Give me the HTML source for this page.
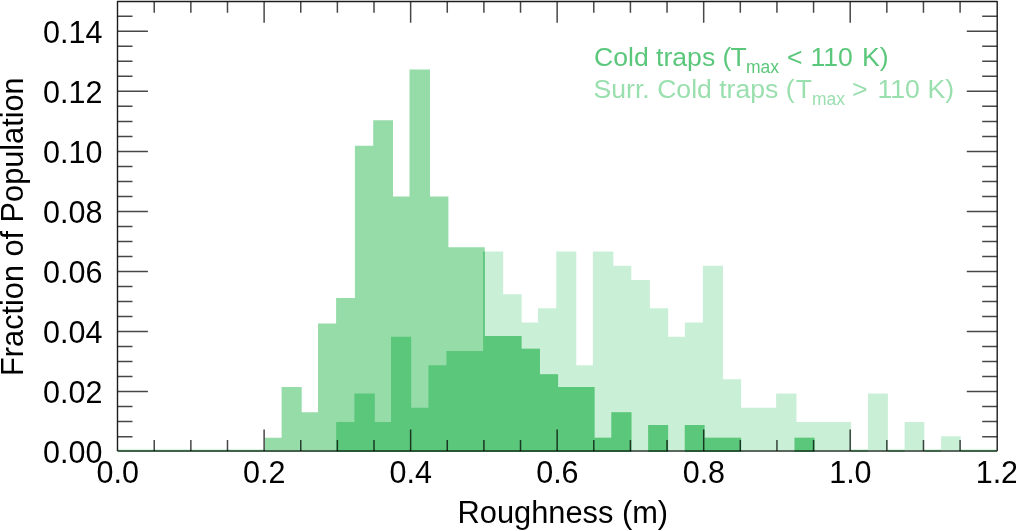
<!DOCTYPE html>
<html><head><meta charset="utf-8"><title>Roughness histogram</title>
<style>
html,body{margin:0;padding:0;background:#fff;}
body{width:1016px;height:531px;overflow:hidden;}
svg{display:block;}
.t{font-family:"Liberation Sans",Arial,sans-serif;font-size:30.5px;fill:#000;}
.lg{font-family:"Liberation Sans",Arial,sans-serif;font-size:26.6px;}
.sb{font-size:17.5px;}
</style></head><body>
<svg width="1016" height="531" viewBox="0 0 1016 531">
<rect width="1016" height="531" fill="#fff"/>
<line x1="117.5" y1="449.4" x2="997.2" y2="449.4" stroke="#d8f4e1" stroke-width="1"/>
<line x1="117.5" y1="451.0" x2="997.2" y2="451.0" stroke="#95dca9" stroke-width="2"/>
<path d="M336.20 452.00V421.95H354.40V452.00ZM354.40 452.00V393.55H374.80V452.00ZM374.80 452.00V421.95H391.00V452.00ZM391.00 452.00V336.75H411.20V452.00ZM411.20 452.00V407.75H428.40V452.00ZM428.40 452.00V365.15H446.40V452.00ZM446.40 452.00V350.95H483.10V452.00ZM483.10 452.00V251.55H503.20V452.00ZM503.20 452.00V294.15H521.60V452.00ZM521.60 452.00V322.55H538.00V452.00ZM538.00 452.00V308.35H556.30V452.00ZM556.30 452.00V251.55H576.30V452.00ZM576.30 452.00V365.15H592.90V452.00ZM592.90 452.00V251.55H613.30V452.00ZM613.30 452.00V265.75H631.30V452.00ZM631.30 452.00V279.95H649.90V452.00ZM649.90 452.00V308.35H668.20V452.00ZM668.20 452.00V336.75H684.90V452.00ZM684.90 452.00V322.55H702.90V452.00ZM702.90 452.00V265.75H723.00V452.00ZM723.00 452.00V379.35H741.10V452.00ZM741.10 452.00V407.75H776.10V452.00ZM776.10 452.00V393.55H796.50V452.00ZM796.50 452.00V421.95H851.10V452.00ZM868.00 452.00V393.55H887.90V452.00ZM904.60 452.00V421.95H924.30V452.00ZM941.10 452.00V436.15H960.70V452.00Z" fill="#caefd7"/>
<path d="M264.80 452.00V437.66H281.60V452.00ZM281.60 452.00V386.89H301.70V452.00ZM301.70 452.00V412.27H318.00V452.00ZM318.00 452.00V323.42H336.10V452.00ZM336.10 452.00V298.03H354.90V452.00ZM354.90 452.00V145.72H373.20V452.00ZM373.20 452.00V120.33H393.00V452.00ZM393.00 452.00V196.49H409.50V452.00ZM409.50 452.00V69.56H430.00V452.00ZM430.00 452.00V196.49H448.40V452.00ZM448.40 452.00V247.26H484.80V452.00ZM484.80 452.00V336.11H521.50V452.00ZM521.50 452.00V348.81H539.90V452.00ZM539.90 452.00V374.19H558.10V452.00ZM558.10 452.00V386.89H594.50V452.00ZM594.50 452.00V437.66H611.40V452.00ZM611.40 452.00V412.27H631.40V452.00ZM648.20 452.00V424.96H668.10V452.00ZM684.80 452.00V424.96H704.50V452.00ZM704.50 452.00V437.66H741.10V452.00ZM794.60 452.00V437.66H814.50V452.00Z" fill="#95dca9"/>
<path d="M336.20 452.00V421.95H354.40V452.00ZM354.40 452.00V393.55H354.90V452.00ZM354.90 452.00V393.55H373.20V452.00ZM373.20 452.00V393.55H374.80V452.00ZM374.80 452.00V421.95H391.00V452.00ZM391.00 452.00V336.75H393.00V452.00ZM393.00 452.00V336.75H409.50V452.00ZM409.50 452.00V336.75H411.20V452.00ZM411.20 452.00V407.75H428.40V452.00ZM428.40 452.00V365.15H430.00V452.00ZM430.00 452.00V365.15H446.40V452.00ZM446.40 452.00V350.95H448.40V452.00ZM448.40 452.00V350.95H483.10V452.00ZM483.10 452.00V251.55H484.80V452.00ZM484.80 452.00V336.11H503.20V452.00ZM503.20 452.00V336.11H521.50V452.00ZM521.50 452.00V348.81H521.60V452.00ZM521.60 452.00V348.81H538.00V452.00ZM538.00 452.00V348.81H539.90V452.00ZM539.90 452.00V374.19H556.30V452.00ZM556.30 452.00V374.19H558.10V452.00ZM558.10 452.00V386.89H576.30V452.00ZM576.30 452.00V386.89H592.90V452.00ZM592.90 452.00V386.89H594.50V452.00ZM594.50 452.00V437.66H611.40V452.00ZM611.40 452.00V412.27H613.30V452.00ZM613.30 452.00V412.27H631.30V452.00ZM631.30 452.00V412.27H631.40V452.00ZM648.20 452.00V424.96H649.90V452.00ZM649.90 452.00V424.96H668.10V452.00ZM684.80 452.00V424.96H684.90V452.00ZM684.90 452.00V424.96H702.90V452.00ZM702.90 452.00V424.96H704.50V452.00ZM704.50 452.00V437.66H723.00V452.00ZM723.00 452.00V437.66H741.10V452.00ZM794.60 452.00V437.66H796.50V452.00ZM796.50 452.00V437.66H814.50V452.00Z" fill="#5bc77b"/>
<path d="M154.23 451.00V440.10M154.23 1.50V12.70M190.86 451.00V440.10M190.86 1.50V12.70M227.49 451.00V440.10M227.49 1.50V12.70M264.12 451.00V429.50M264.12 1.50V22.70M300.75 451.00V440.10M300.75 1.50V12.70M337.38 451.00V440.10M337.38 1.50V12.70M374.01 451.00V440.10M374.01 1.50V12.70M410.64 451.00V429.50M410.64 1.50V22.70M447.27 451.00V440.10M447.27 1.50V12.70M483.90 451.00V440.10M483.90 1.50V12.70M520.53 451.00V440.10M520.53 1.50V12.70M557.16 451.00V429.50M557.16 1.50V22.70M593.79 451.00V440.10M593.79 1.50V12.70M630.42 451.00V440.10M630.42 1.50V12.70M667.05 451.00V440.10M667.05 1.50V12.70M703.68 451.00V429.50M703.68 1.50V22.70M740.31 451.00V440.10M740.31 1.50V12.70M776.94 451.00V440.10M776.94 1.50V12.70M813.57 451.00V440.10M813.57 1.50V12.70M850.20 451.00V429.50M850.20 1.50V22.70M886.83 451.00V440.10M886.83 1.50V12.70M923.46 451.00V440.10M923.46 1.50V12.70M960.09 451.00V440.10M960.09 1.50V12.70M117.50 436.64H132.50M997.20 436.64H982.20M117.50 421.62H132.50M997.20 421.62H982.20M117.50 406.61H132.50M997.20 406.61H982.20M117.50 391.60H147.90M997.20 391.60H966.80M117.50 376.59H132.50M997.20 376.59H982.20M117.50 361.57H132.50M997.20 361.57H982.20M117.50 346.56H132.50M997.20 346.56H982.20M117.50 331.55H147.90M997.20 331.55H966.80M117.50 316.54H132.50M997.20 316.54H982.20M117.50 301.52H132.50M997.20 301.52H982.20M117.50 286.51H132.50M997.20 286.51H982.20M117.50 271.50H147.90M997.20 271.50H966.80M117.50 256.49H132.50M997.20 256.49H982.20M117.50 241.47H132.50M997.20 241.47H982.20M117.50 226.46H132.50M997.20 226.46H982.20M117.50 211.45H147.90M997.20 211.45H966.80M117.50 196.44H132.50M997.20 196.44H982.20M117.50 181.43H132.50M997.20 181.43H982.20M117.50 166.41H132.50M997.20 166.41H982.20M117.50 151.40H147.90M997.20 151.40H966.80M117.50 136.39H132.50M997.20 136.39H982.20M117.50 121.38H132.50M997.20 121.38H982.20M117.50 106.36H132.50M997.20 106.36H982.20M117.50 91.35H147.90M997.20 91.35H966.80M117.50 76.34H132.50M997.20 76.34H982.20M117.50 61.32H132.50M997.20 61.32H982.20M117.50 46.31H132.50M997.20 46.31H982.20M117.50 31.30H147.90M997.20 31.30H966.80M117.50 16.29H132.50M997.20 16.29H982.20" stroke="#000" stroke-opacity="0.72" stroke-width="1.5" fill="none"/>
<line x1="117.5" y1="451.0" x2="997.2" y2="451.0" stroke="#000" stroke-opacity="0.56" stroke-width="1.9"/>
<path d="M117.50 451.00V1.50H997.20V451.00" stroke="#1c1c1c" stroke-width="1.4" fill="none" stroke-linejoin="round"/>
<text x="102.4" y="463.0" text-anchor="end" class="t">0.00</text>
<text x="102.4" y="403.0" text-anchor="end" class="t">0.02</text>
<text x="102.4" y="342.9" text-anchor="end" class="t">0.04</text>
<text x="102.4" y="282.9" text-anchor="end" class="t">0.06</text>
<text x="102.4" y="222.8" text-anchor="end" class="t">0.08</text>
<text x="102.4" y="162.8" text-anchor="end" class="t">0.10</text>
<text x="102.4" y="102.7" text-anchor="end" class="t">0.12</text>
<text x="102.4" y="42.7" text-anchor="end" class="t">0.14</text>
<text x="117.8" y="483.0" text-anchor="middle" class="t">0.0</text>
<text x="264.3" y="483.0" text-anchor="middle" class="t">0.2</text>
<text x="410.8" y="483.0" text-anchor="middle" class="t">0.4</text>
<text x="557.4" y="483.0" text-anchor="middle" class="t">0.6</text>
<text x="703.9" y="483.0" text-anchor="middle" class="t">0.8</text>
<text x="850.4" y="483.0" text-anchor="middle" class="t">1.0</text>
<text x="996.9" y="483.0" text-anchor="middle" class="t">1.2</text>
<text x="457.6" y="522.5" class="t" style="font-size:30.8px">Roughness (m)</text>
<text transform="translate(23.2 375.9) rotate(-90)" class="t" style="font-size:30.7px">Fraction of Population</text>
<text x="594.0" y="66.3" class="lg" fill="#5bc77b">Cold traps (<tspan x="730.4">T</tspan><tspan class="sb" x="746.0" dy="6.5">max</tspan><tspan x="787.0" dy="-6.5">&lt;</tspan><tspan x="803.1"> 110</tspan><tspan x="854.5"> K)</tspan></text>
<text x="593.6" y="98.4" class="lg" fill="#9adfae">Surr. Cold traps (<tspan x="795.7">T</tspan><tspan class="sb" x="812.0" dy="6.5">max</tspan><tspan x="851.9" dy="-6.5">&gt;</tspan><tspan x="870.1"> 110</tspan><tspan x="920.1"> K)</tspan></text>
</svg>
</body></html>
